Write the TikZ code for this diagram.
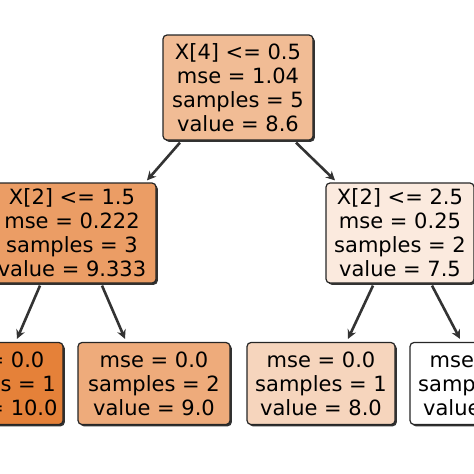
\documentclass[tikz,border=0pt]{standalone}
\usepackage{fontspec}
\setmainfont{DejaVu Sans}
\usetikzlibrary{arrows.meta,shadows}
\definecolor{c533}{RGB}{241,188,149}
\definecolor{c778}{RGB}{235,157,101}
\definecolor{c167}{RGB}{251,234,222}
\definecolor{c100}{RGB}{229,129,57}
\definecolor{c667}{RGB}{238,171,123}
\definecolor{c333}{RGB}{246,213,189}
\tikzset{
  treebox/.style={draw=black!85, line width=1.2pt, rounded corners=4pt, align=center,
    inner sep=0pt, font=\fontsize{21}{24}\selectfont,
    drop shadow={shadow xshift=1.8pt, shadow yshift=-1.8pt, fill=black!80, opacity=1}},
  edge/.style={draw=black!80, line width=2.6pt, -{Stealth[length=9pt,width=9pt]}}
}
\begin{document}
\begin{tikzpicture}[x=1pt,y=-1pt]
\useasboundingbox (0,0) rectangle (474,474);
\clip (0,0) rectangle (474,474);
\node[treebox, fill=c533, minimum width=150pt, minimum height=105pt] (root) at (238,87.5)
  {X[4] <= 0.5\\mse = 1.04\\samples = 5\\value = 8.6};
\node[treebox, fill=c778, minimum width=168pt, minimum height=100pt] (L) at (72,233)
  {X[2] <= 1.5\\mse = 0.222\\samples = 3\\value = 9.333};
\node[treebox, fill=c167, minimum width=148pt, minimum height=100pt] (R) at (400,233)
  {X[2] <= 2.5\\mse = 0.25\\samples = 2\\value = 7.5};
\node[treebox, fill=c100, minimum width=146pt, minimum height=82pt] (LL) at (-10,383.5)
  {mse = 0.0\\samples = 1\\value = 10.0};
\node[treebox, fill=c667, minimum width=152pt, minimum height=82pt] (LR) at (154,383.5)
  {mse = 0.0\\samples = 2\\value = 9.0};
\node[treebox, fill=c333, minimum width=148pt, minimum height=82pt] (RL) at (321,383.5)
  {mse = 0.0\\samples = 1\\value = 8.0};
\node[treebox, fill=white, minimum width=148pt, minimum height=82pt] (RR) at (484,383.5)
  {mse = 0.0\\samples = 1\\value = 7.0};
\draw[edge] ([xshift=-58pt,yshift=-2pt]root.south) -- ([xshift=75pt,yshift=2pt]L.north);
\draw[edge] ([xshift=58pt,yshift=-2pt]root.south) -- ([xshift=-65pt,yshift=2pt]R.north);
\draw[edge] ([xshift=-32pt,yshift=-2pt]L.south) -- ([xshift=27pt,yshift=3pt]LL.north);
\draw[edge] ([xshift=30pt,yshift=-2pt]L.south) -- ([xshift=-29pt,yshift=3pt]LR.north);
\draw[edge] ([xshift=-27pt,yshift=-2pt]R.south) -- ([xshift=27pt,yshift=3pt]RL.north);
\draw[edge] ([xshift=32pt,yshift=-2pt]R.south) -- ([xshift=-24pt,yshift=3pt]RR.north);
\end{tikzpicture}
\end{document}
